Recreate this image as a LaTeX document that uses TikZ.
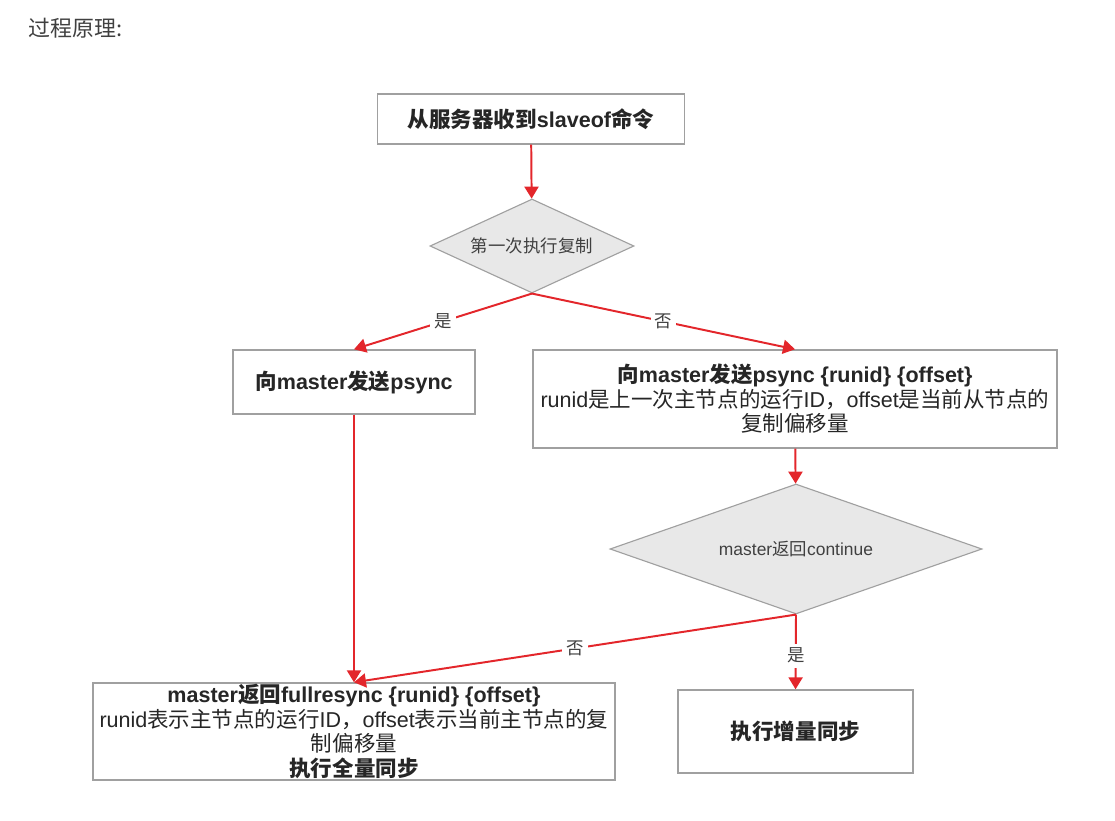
\documentclass[tikz,border=0pt]{standalone}
\usepackage{fontspec}
\setmainfont{Liberation Sans}
\newfontfamily\cjk{Noto Sans CJK SC}
\usetikzlibrary{shapes.geometric,arrows.meta}
\newcommand{\zh}[1]{{\cjk #1}}
\newcommand{\px}{0.025cm}
\definecolor{flowred}{HTML}{E3262B}
\definecolor{edgegray}{HTML}{A0A0A0}
\definecolor{diagray}{HTML}{E8E8E8}
\definecolor{inkgray}{HTML}{404040}

\tikzset{
  box/.style={draw=edgegray, line width=1pt, fill=white, align=center, inner sep=0pt,
    text=black!85, font=\fontsize{15.3}{17.4}\selectfont},
  decision/.style={diamond, draw=edgegray, line width=0.8pt, fill=diagray, inner sep=0pt,
    text=inkgray, font=\fontsize{12.4}{14}\selectfont},
  flow/.style={draw=flowred, line width=1.4pt, -{Triangle[width=10pt,length=8.5pt]}},
  answer/.style={fill=white, inner sep=3pt, text=inkgray, font=\cjk\fontsize{12.4}{14}\selectfont},
}

\begin{document}
\begin{tikzpicture}[x=\px, y=-\px]
    \useasboundingbox (0,0) rectangle (1115,820);

    \node [anchor=west, text=inkgray, font=\cjk\fontsize{15.6}{18}\selectfont] (title) at (24,28) {过程原理:};

    \node [box, font=\bfseries\fontsize{15.3}{17.4}\selectfont, minimum width=307*\px, minimum height=50*\px] (start) at (531,119) {\zh{从服务器收到}slaveof\zh{命令}};
    \node [decision, aspect=2.2, minimum width=204*\px, minimum height=94*\px] (first) at (532,246) {\zh{第一次执行复制}};
    \node [box, font=\bfseries\fontsize{15.3}{17.4}\selectfont, minimum width=242*\px, minimum height=64*\px] (psync) at (354,382) {\zh{向}master\zh{发送}psync};
    \node [box, minimum width=524*\px, minimum height=98*\px] (psyncoff) at (795,399)
      {\textbf{\zh{向}master\zh{发送}psync \{runid\} \{offset\}}\\
       runid\zh{是上一次主节点的运行}ID\zh{，}offset\zh{是当前从节点的}\\
       \zh{复制偏移量}};
    \node [decision, aspect=2.86, minimum width=372*\px, minimum height=130*\px] (cont) at (796,549) {master\zh{返回}continue};
    \node [box, minimum width=522*\px, minimum height=97*\px] (full) at (354,731.5)
      {\textbf{master\zh{返回}fullresync \{runid\} \{offset\}}\\
       runid\zh{表示主节点的运行}ID\zh{，}offset\zh{表示当前主节点的复}\\
       \zh{制偏移量}\\
       \textbf{\zh{执行全量同步}}};
    \node [box, font=\bfseries\fontsize{15.3}{17.4}\selectfont, minimum width=235*\px, minimum height=83*\px] (incr) at (795.5,731.5) {\zh{执行增量同步}};

    \draw [flow] (start) -- (first);
    \draw [flow] (first.south) -- node [answer] {是} (psync.north);
    \draw [flow] (first.south) -- node [answer] {否} (psyncoff.north);
    \draw [flow] (psyncoff) -- (cont);
    \draw [flow] (psync) -- (full);
    \draw [flow] (cont.south) -- node [answer] {否} (full.north);
    \draw [flow] (cont.south) -- node [answer, pos=0.55] {是} (incr.north);
\end{tikzpicture}
\end{document}
